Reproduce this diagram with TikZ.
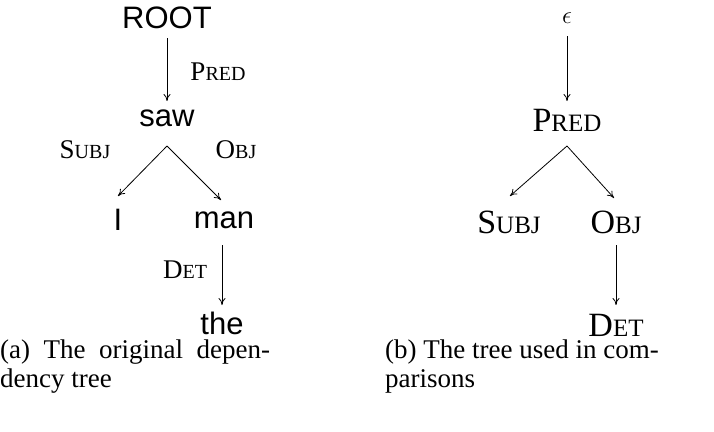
\documentclass[tikz,border=0pt]{standalone}
\usepackage{fontspec}
\setmainfont{Liberation Serif}
\newfontfamily\sansf{Liberation Sans}
\usetikzlibrary{arrows.meta}
\newcommand{\fakesc}[3]{#2{\fontsize{#1}{#1}\selectfont #3}}
\begin{document}
\begin{tikzpicture}[x=1pt,y=-1pt,
  big/.style={font=\sansf\fontsize{31}{31}\selectfont, inner sep=0pt},
  lab/.style={font=\fontsize{27}{27}\selectfont, inner sep=0pt},
  rlab/.style={font=\fontsize{34}{34}\selectfont, inner sep=0pt},
  arr/.style={-{To[length=7pt,width=7pt]}, line width=0.8pt},
  captxt/.style={font=\fontsize{27}{29}\selectfont, inner sep=0pt, anchor=west}]
\useasboundingbox (0,0) rectangle (714,431);
% left tree
\node[big] (root) at (167,18) {ROOT};
\node[big] (saw) at (167,118) {saw};
\node[big] (i) at (118,220) {I};
\node[big] (man) at (224,220) {man};
\node[big] (the) at (222,323) {the};
\coordinate (sawb) at (167,146);
\draw[arr] (167,38) -- (167,101);
\draw[arr] (sawb) -- (118,196);
\draw[arr] (sawb) -- (221,200);
\draw[arr] (222,245) -- (222,305);
\node[lab] (lp) at (218,72) {\fakesc{20}{P}{RED}};
\node[lab] (ls) at (85,150) {\fakesc{20}{S}{UBJ}};
\node[lab] (lo) at (236,150) {\fakesc{20}{O}{BJ}};
\node[lab] (ld) at (185,270) {\fakesc{20}{D}{ET}};
% right tree
\node[rlab] (eps) at (567,18) {$\epsilon$};
\node[rlab] (pred) at (567,120) {\fakesc{25}{P}{RED}};
\node[rlab] (subj) at (509,222) {\fakesc{25}{S}{UBJ}};
\node[rlab] (obj) at (616,222) {\fakesc{25}{O}{BJ}};
\node[rlab] (det) at (616,325) {\fakesc{25}{D}{ET}};
\coordinate (predb) at (567,146);
\draw[arr] (567,36) -- (567,101);
\draw[arr] (predb) -- (510,196);
\draw[arr] (predb) -- (614,198);
\draw[arr] (616,245) -- (616,305);
% captions
\node[captxt] (ca1) at (0,352) {(a)\ \ The\ \ original\ \ depen-};
\node[captxt] (ca2) at (0,381) {dency tree};
\node[captxt] (cb1) at (385,352) {(b) The tree used in com-};
\node[captxt] (cb2) at (385,381) {parisons};
\end{tikzpicture}
\end{document}
